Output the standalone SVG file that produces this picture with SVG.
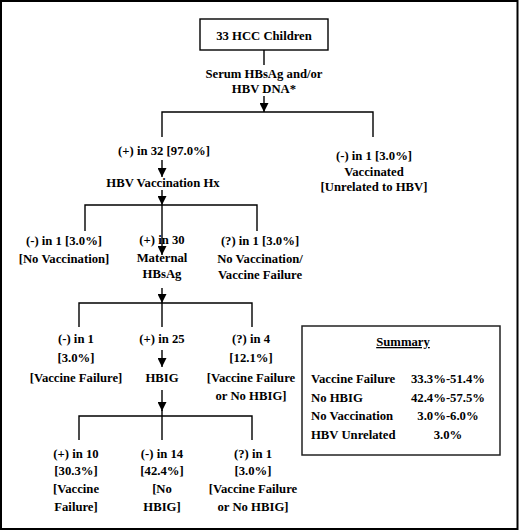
<svg xmlns="http://www.w3.org/2000/svg" width="520" height="531" viewBox="0 0 520 531">
<style>
text{font-family:"Liberation Serif","Times New Roman",serif;font-weight:bold;font-size:12.7px;fill:#000;text-anchor:middle}
.l{text-anchor:start}
.ln{stroke:#000;stroke-width:1.4;fill:none}
.arr{marker-end:url(#ah)}
</style>
<defs>
<marker id="ah" markerUnits="userSpaceOnUse" markerWidth="9" markerHeight="9" refX="8" refY="4" orient="auto" viewBox="0 0 8 8">
<path d="M0,0 L8,4 L0,8 z" fill="#000"/>
</marker>
</defs>
<rect x="1" y="1" width="516.5" height="528" fill="#fff" stroke="#000" stroke-width="2"/>

<g id="connectors">
<line class="ln" x1="264" y1="50" x2="264" y2="65"/>
<line class="ln arr" x1="264" y1="96" x2="264" y2="112"/>
<polyline class="ln" points="162,137 162,112 373,112 373,137"/>
<line class="ln arr" x1="162" y1="160" x2="162" y2="177"/>
<line class="ln arr" x1="162" y1="190" x2="162" y2="205"/>
<polyline class="ln" points="85,231 85,205 257,205 257,231"/>
<line class="ln arr" x1="162" y1="205" x2="162" y2="255"/>
<line class="ln arr" x1="162" y1="288" x2="162" y2="303"/>
<polyline class="ln" points="79,327 79,303 252,303 252,327"/>
<line class="ln" x1="162" y1="303" x2="162" y2="327"/>
<line class="ln arr" x1="162" y1="350" x2="162" y2="367"/>
<line class="ln arr" x1="162" y1="390" x2="162" y2="411"/>
<line class="ln" x1="162" y1="410" x2="162" y2="440"/>
<polyline class="ln" points="79,440 79,416 252,416 252,440"/>
</g>

<g id="root">
<rect x="200" y="19" width="128" height="31" fill="#fff" stroke="#000" stroke-width="1.4"/>
<text x="264" y="40">33 HCC Children</text>
</g>
<g id="serum">
<text x="264" y="78">Serum HBsAg and/or</text>
<text x="264" y="93">HBV DNA*</text>
</g>
<g id="pos32">
<text x="164" y="155">(+) in 32 [97.0%]</text>
</g>
<g id="neg1-top">
<text x="374" y="160">(-) in 1 [3.0%]</text>
<text x="374" y="176">Vaccinated</text>
<text x="374" y="191">[Unrelated to HBV]</text>
</g>
<g id="vaxhx">
<text x="163" y="187">HBV Vaccination Hx</text>
</g>
<g id="novax">
<text x="64" y="245">(-) in 1 [3.0%]</text>
<text x="64" y="263">[No Vaccination]</text>
</g>
<g id="pos30">
<text x="162" y="244">(+) in 30</text>
<text x="162" y="262">Maternal</text>
<text x="162" y="278">HBsAg</text>
</g>
<g id="unk1">
<text x="260" y="245">(?) in 1 [3.0%]</text>
<text x="260" y="263">No Vaccination/</text>
<text x="260" y="279">Vaccine Failure</text>
</g>
<g id="neg1-mid">
<text x="76" y="343">(-) in 1</text>
<text x="76" y="362">[3.0%]</text>
<text x="76" y="382">[Vaccine Failure]</text>
</g>
<g id="pos25">
<text x="162" y="343">(+) in 25</text>
</g>
<g id="hbig">
<text x="162" y="382">HBIG</text>
</g>
<g id="unk4">
<text x="251" y="343">(?) in 4</text>
<text x="251" y="362">[12.1%]</text>
<text x="251" y="382">[Vaccine Failure</text>
<text x="251" y="400">or No HBIG]</text>
</g>
<g id="pos10">
<text x="76" y="458">(+) in 10</text>
<text x="76" y="475">[30.3%]</text>
<text x="76" y="493">[Vaccine</text>
<text x="76" y="511">Failure]</text>
</g>
<g id="neg14">
<text x="162" y="458">(-) in 14</text>
<text x="162" y="475">[42.4%]</text>
<text x="162" y="493">[No</text>
<text x="162" y="511">HBIG]</text>
</g>
<g id="unk1-bot">
<text x="253" y="458">(?) in 1</text>
<text x="253" y="475">[3.0%]</text>
<text x="253" y="493">[Vaccine Failure</text>
<text x="253" y="511">or No HBIG]</text>
</g>
<g id="summary">
<rect x="302" y="326" width="198" height="129" fill="#fff" stroke="#222" stroke-width="1.5"/>
<text x="403" y="346" text-decoration="underline">Summary</text>
<text class="l" x="311" y="383">Vaccine Failure</text>
<text x="448" y="383">33.3%-51.4%</text>
<text class="l" x="311" y="402">No HBIG</text>
<text x="448" y="402">42.4%-57.5%</text>
<text class="l" x="311" y="420">No Vaccination</text>
<text x="448" y="420">3.0%-6.0%</text>
<text class="l" x="311" y="439">HBV Unrelated</text>
<text x="448" y="439">3.0%</text>
</g>
</svg>
